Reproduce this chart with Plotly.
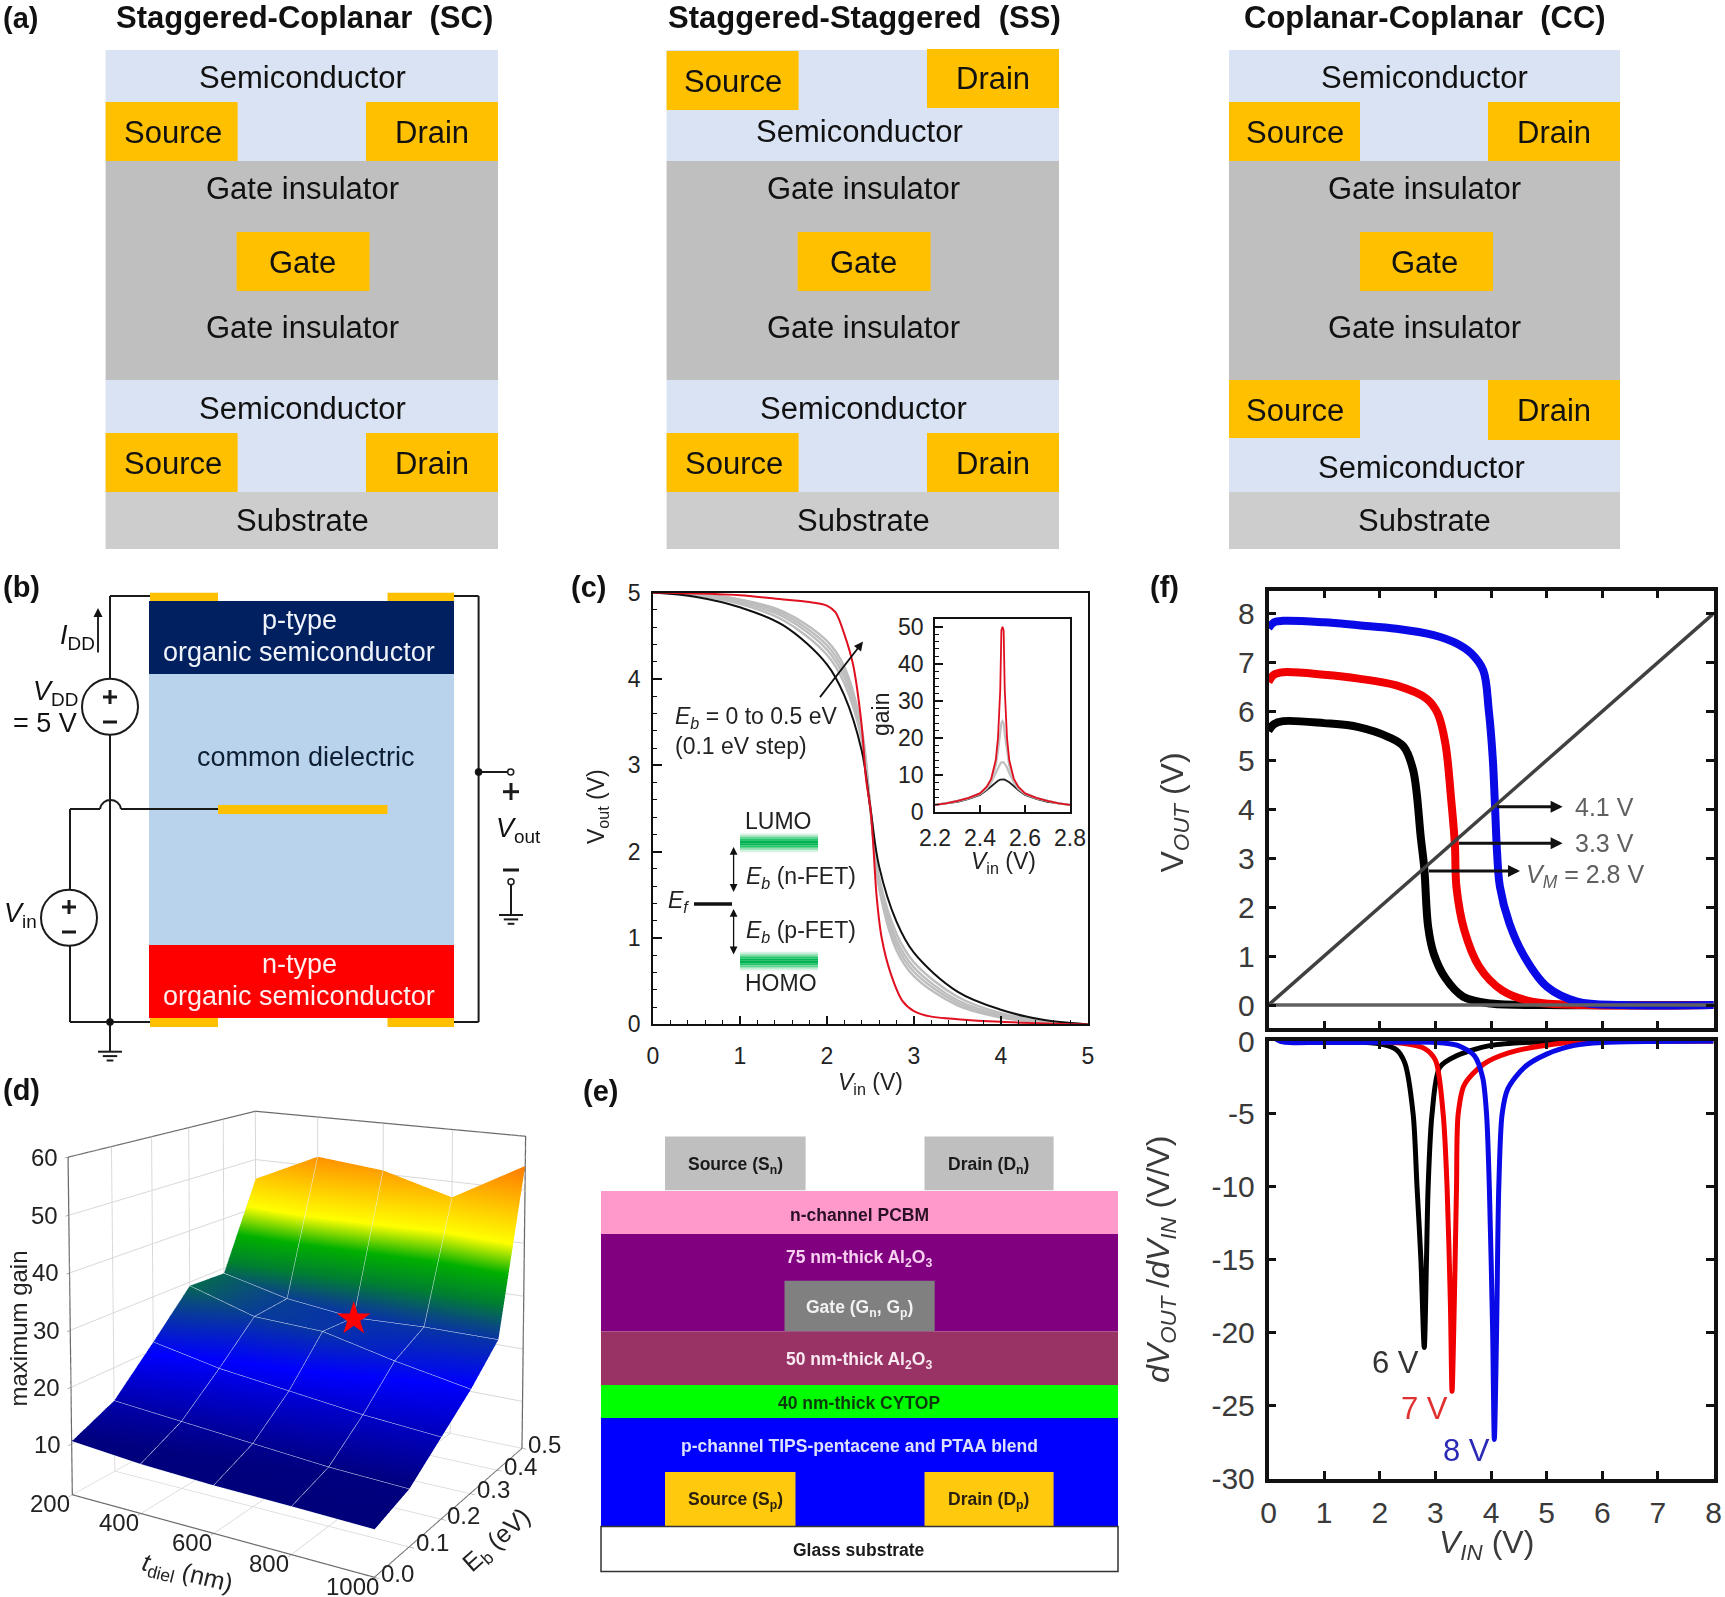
import plotly.graph_objects as go

W, H = 1725, 1597
FONT = "Liberation Sans, Arial, sans-serif"

# ---------- panel (c) data ----------
c_x = [0, .5, 1, 1.5, 2, 2.2, 2.4, 2.5, 2.6, 2.8, 3, 3.5, 4, 4.5, 5]
c_black = [5, 4.95, 4.83, 4.62, 4.17, 3.81, 3.17, 2.5, 1.83, 1.19, .83, .38, .17, .05, 0]
c_gray1 = [5, 4.97, 4.87, 4.68, 4.28, 3.95, 3.3, 2.5, 1.7, 1.05, .72, .32, .13, .04, 0]
c_gray2 = [5, 4.98, 4.89, 4.72, 4.34, 4.02, 3.34, 2.5, 1.66, .98, .66, .28, .11, .03, 0]
c_gray3 = [5, 4.98, 4.91, 4.75, 4.39, 4.08, 3.38, 2.5, 1.62, .92, .61, .25, .09, .03, 0]
c_gray4 = [5, 4.99, 4.92, 4.78, 4.44, 4.14, 3.42, 2.5, 1.58, .86, .56, .22, .08, .02, 0]
c_red_x = [0, 1, 1.5, 1.8, 2, 2.1, 2.2, 2.3, 2.4, 2.45, 2.5, 2.53, 2.57, 2.63, 2.73, 2.87, 3, 3.2, 3.5, 4, 5]
c_red_y = [5, 4.97, 4.92, 4.89, 4.85, 4.77, 4.52, 4.17, 3.46, 2.84, 2.5, 2.13, 1.5, 1.0, .6, .27, .155, .09, .06, .03, 0]

# inset gain
g_x = [2.2, 2.25, 2.3, 2.35, 2.4, 2.43, 2.45, 2.47, 2.48, 2.49, 2.495, 2.5, 2.505, 2.51, 2.52, 2.53, 2.55, 2.57, 2.6, 2.65, 2.7, 2.75, 2.8]
g_red = [1.9, 2.3, 3, 3.8, 5, 6.8, 9, 14, 20, 33, 49, 50, 49, 33, 20, 14, 9, 6.8, 5, 3.8, 3, 2.3, 1.9]
g_gray3 = [1.9, 2.3, 3, 3.8, 5, 6.6, 8.6, 12.5, 16.5, 21, 24, 24.5, 24, 21, 16.5, 12.5, 8.6, 6.6, 5, 3.8, 3, 2.3, 1.9]
g_gray1 = [1.9, 2.3, 2.9, 3.7, 4.8, 6.3, 8, 10.5, 12, 13, 13.4, 13.5, 13.4, 13, 12, 10.5, 8, 6.3, 4.8, 3.7, 2.9, 2.3, 1.9]
g_black = [1.9, 2.2, 2.7, 3.5, 4.6, 5.9, 7, 8, 8.4, 8.7, 8.8, 8.8, 8.8, 8.7, 8.4, 8, 7, 5.9, 4.6, 3.5, 2.7, 2.2, 1.9]

# ---------- panel (d) data ----------
d_t = [200, 400, 600, 800, 1000]
d_eb = [0, .1, .2, .3, .4, .5]
d_gain = [
    [10.5, 9.5, 9, 8.8, 8.5],
    [14, 13, 12, 11, 10.5],
    [21.5, 19, 17.5, 16, 15],
    [29.3, 25.5, 25, 22, 19.5],
    [29, 26, 24.5, 25, 25],
    [46, 52, 50.7, 47, 54.5],
]
d_ticks_t = ["200", "400", "600", "800", "1000"]
d_ticks_eb = ["0.0", "0.1", "0.2", "0.3", "0.4", "0.5"]
d_ticks_gain = [10, 20, 30, 40, 50, 60]

# ---------- panel (f) data ----------
f6_x = [0, .1, .26, 1, 1.62, 2.15, 2.43, 2.6, 2.74, 2.8, 2.87, 2.97, 3.18, 3.5, 4, 5, 8]
f6_y = [5.6, 5.74, 5.8, 5.76, 5.68, 5.48, 5.28, 4.8, 3.4, 2.8, 1.6, 1.05, .55, .17, .03, 0, 0]
f7_x = [0, .1, .26, 1, 1.62, 2.3, 2.84, 3.04, 3.18, 3.28, 3.35, 3.38, 3.52, 3.79, 4.2, 4.74, 5.7, 8]
f7_y = [6.6, 6.75, 6.8, 6.75, 6.67, 6.53, 6.26, 5.96, 5.34, 4.25, 3.3, 2.4, 1.53, .78, .3, .07, 0, 0]
f8_x = [0, .1, .26, 1, 1.62, 2.3, 2.97, 3.38, 3.65, 3.86, 3.96, 4.03, 4.07, 4.11, 4.16, 4.33, 4.6, 5.01, 5.55, 6.37, 8.05]
f8_y = [7.7, 7.82, 7.85, 7.82, 7.76, 7.69, 7.56, 7.39, 7.18, 6.84, 6.02, 5.07, 4.12, 3.1, 2.42, 1.67, .99, .37, .07, 0, 0]
unity_x = [0, 8]
unity_y = [0, 8]
zero_x = [0, 8]
zero_y = [0, 0]

d6_x = [.2, 1.5, 2, 2.3, 2.45, 2.6, 2.67, 2.74, 2.8, 2.84, 2.87, 2.94, 3.08, 3.39, 4, 5, 8]
d6_y = [0, -.05, -.2, -.6, -1.5, -5, -10, -15, -21, -15, -10, -5, -1.8, -1, -.3, -.05, 0]
d7_x = [.2, 2, 2.5, 2.8, 3, 3.14, 3.21, 3.27, 3.3, 3.34, 3.38, 3.41, 3.52, 3.86, 4.33, 5.15, 6, 8]
d7_y = [0, -.05, -.2, -.5, -1.3, -5, -10, -18, -24, -18, -10, -5, -3, -1.6, -.8, -.2, 0, 0]
d8_x = [0, .05, .15, 1, 3, 3.4, 3.7, 3.85, 3.92, 3.97, 4.03, 4.06, 4.1, 4.14, 4.2, 4.3, 4.6, 5, 5.5, 6, 8]
d8_y = [2.4, 1.5, .1, -.1, -.1, -.3, -1, -2.5, -5, -10, -20, -27.3, -20, -10, -5, -3.3, -1.8, -.9, -.3, -.1, 0]
d_tick_vals = [-30, -25, -20, -15, -10, -5, 0]
d_tick_text = ["-30", "-25", "-20", "-15", "-10", "-5", "0"]

# ---------- helpers ----------
shapes, annos = [], []


def px(x):
    return x / W


def py(y):
    return 1 - y / H


def rect(x0, y0, x1, y1, fill, line=None, lw=0):
    shapes.append(dict(type="rect", xref="paper", yref="paper", x0=px(x0), x1=px(x1), y0=py(y0), y1=py(y1),
                       fillcolor=fill, line=dict(color=line or fill, width=lw), layer="above"))


def seg(x0, y0, x1, y1, color="#1a1a1a", lw=2):
    shapes.append(dict(type="line", xref="paper", yref="paper", x0=px(x0), x1=px(x1), y0=py(y0), y1=py(y1),
                       line=dict(color=color, width=lw), layer="above"))


def circ(cx, cy, r, fill="rgba(0,0,0,0)", line="#1a1a1a", lw=2):
    shapes.append(dict(type="circle", xref="paper", yref="paper", x0=px(cx - r), x1=px(cx + r), y0=py(cy + r), y1=py(cy - r),
                       fillcolor=fill, line=dict(color=line, width=lw), layer="above"))


def txt(x, y, s, size=27, color="#111111", anchor="center", angle=0, bold=False):
    if bold:
        s = "<b>" + s + "</b>"
    annos.append(dict(xref="paper", yref="paper", x=px(x), y=py(y), text=s, showarrow=False,
                      xanchor=anchor, yanchor="middle", textangle=angle,
                      font=dict(family=FONT, size=size, color=color)))


def arrow(x0, y0, x1, y1, color="#111111", lw=2, side="end", head=2, scale=1.0):
    annos.append(dict(xref="paper", yref="paper", x=px(x1), y=py(y1), text=" ", showarrow=True,
                      ax=x0 - x1, ay=y0 - y1, axref="pixel", ayref="pixel", arrowcolor=color, arrowwidth=lw,
                      arrowhead=head, arrowsize=scale, arrowside=side, startarrowhead=head, startarrowsize=scale,
                      standoff=0, startstandoff=0))


def ground(x, y, w1=12, gap=4.4):
    seg(x - w1, y, x + w1, y)
    seg(x - w1 * .6, y + gap, x + w1 * .6, y + gap)
    seg(x - w1 * .28, y + 2 * gap, x + w1 * .28, y + 2 * gap)


GOLD, SEMI, INS, SUB = "#FFC000", "#DAE3F3", "#BFBFBF", "#CDCDCD"

# ---------- panel (a) ----------
for (xl, xr, tx) in [(105.6, 498, 302.5), (666.6, 1059, 863.5), (1229, 1620, 1424.5)]:
    rect(xl, 161, xr, 380, INS)
    rect(xl, 492, xr, 549, SUB)
    rect(xl, 50, xr, 161, SEMI)
    rect(xl, 380, xr, 492, SEMI)
    rect(xl + 131, 232, xl + 264, 291, GOLD)
    txt(tx, 188.6, "Gate insulator", 31)
    txt(tx, 327.5, "Gate insulator", 31)
    txt(tx, 262.5, "Gate", 31)
    txt(tx, 520.7, "Substrate", 31)

# SC
rect(105.6, 102, 237.6, 161, GOLD); rect(366, 102, 498, 161, GOLD)
rect(105.6, 433, 237.6, 492, GOLD); rect(366, 433, 498, 492, GOLD)
txt(302.5, 78, "Semiconductor", 31)
txt(172.7, 133, "Source", 31); txt(432, 133, "Drain", 31)
txt(302.5, 408, "Semiconductor", 31)
txt(172.7, 463, "Source", 31); txt(432, 463, "Drain", 31)
# SS
rect(666.6, 51, 798.6, 110, GOLD); rect(927, 49, 1059, 108, GOLD)
rect(666.6, 433, 798.6, 492, GOLD); rect(927, 433, 1059, 492, GOLD)
txt(733, 81.4, "Source", 31); txt(993, 79, "Drain", 31)
txt(859, 131.4, "Semiconductor", 31)
txt(863.5, 408, "Semiconductor", 31)
txt(733.5, 463, "Source", 31); txt(993, 463, "Drain", 31)
# CC
rect(1229, 102, 1360, 161, GOLD); rect(1488, 102, 1620, 161, GOLD)
rect(1229, 380, 1360, 438, GOLD); rect(1488, 380, 1620, 440, GOLD)
txt(1424.5, 78, "Semiconductor", 31)
txt(1294.7, 133, "Source", 31); txt(1554, 133, "Drain", 31)
txt(1294.7, 410.7, "Source", 31); txt(1554, 410.7, "Drain", 31)
txt(1421, 468, "Semiconductor", 31)

txt(1, 17.5, "(a)", 29, anchor="left", bold=True)
txt(304, 17.5, "Staggered-Coplanar\u00a0 (SC)", 31, bold=True)
txt(864, 17.5, "Staggered-Staggered\u00a0 (SS)", 31, bold=True)
txt(1424.5, 17.5, "Coplanar-Coplanar\u00a0 (CC)", 31, bold=True)

# ---------- panel (b) ----------
rect(149, 601, 454, 674, "#002060")
rect(149, 674, 454, 945, "#B9D3EC")
rect(149, 945, 454, 1018, "#FF0000")
rect(150, 592.7, 218, 601, GOLD); rect(387.5, 592.7, 454, 601, GOLD)
rect(150, 1018, 218, 1027, GOLD); rect(387.5, 1018, 454, 1027, GOLD)
rect(218, 805, 387.5, 814, GOLD)
seg(110, 596, 150, 596); seg(110, 596, 110, 679)
seg(110, 735, 110, 1052)
seg(454, 596, 478.6, 596); seg(478.6, 596, 478.6, 1022); seg(454, 1022, 478.6, 1022)
seg(70, 809, 100, 809); seg(121, 809, 218, 809)
shapes.append(dict(type="path", xref="paper", yref="paper", layer="above", line=dict(color="#1a1a1a", width=2),
                   path=f"M {px(100)} {py(809)} C {px(102)} {py(797)}, {px(119)} {py(797)}, {px(121)} {py(809)}"))
seg(70, 809, 70, 890); seg(70, 946, 70, 1022); seg(70, 1022, 150, 1022)
circ(110, 706.7, 28); circ(69, 917.7, 28)
seg(110, 690, 110, 704, lw=3); seg(103, 697, 117, 697, lw=3); seg(103, 722, 117, 722, lw=3)
seg(69, 900, 69, 914, lw=3); seg(62, 907, 76, 907, lw=3); seg(62, 932, 76, 932, lw=3)
circ(110, 1022, 3.5, fill="#111111", lw=1)
circ(478.6, 772, 3.5, fill="#111111", lw=1)
seg(478.6, 772, 508, 772)
circ(510.7, 772, 3, fill="white", lw=1.5)
ground(110, 1051.7)
ground(511, 915, w1=12)
seg(511, 885, 511, 915)
circ(511, 881.7, 3, fill="white", lw=1.5)
seg(511, 783, 511, 800, lw=3); seg(503, 791.7, 519, 791.7, lw=3); seg(503, 870, 519, 870, lw=3)
arrow(98, 661, 98, 608, lw=1.8)
txt(77, 637, "<i>I</i><sub>DD</sub>", 27)
txt(55, 693, "<i>V</i><sub>DD</sub>", 27)
txt(45, 723, "= 5 V", 27)
txt(20, 915, "<i>V</i><sub>in</sub>", 27)
txt(518, 830, "<i>V</i><sub>out</sub>", 27)
txt(299, 620, "p-type", 27, "#F0F4FA")
txt(299, 652, "organic semiconductor", 27, "#F0F4FA")
txt(299, 964, "n-type", 27, "#FFF0F0")
txt(299, 996, "organic semiconductor", 27, "#FFF0F0")
txt(306, 757, "common dielectric", 27, "#0F1F33")
txt(1, 587, "(b)", 29, anchor="left", bold=True)

# ---------- panel (c) annotations ----------
txt(569, 587, "(c)", 29, anchor="left", bold=True)
txt(672.5, 717.6, "<i>E<sub>b</sub></i> = 0 to 0.5 eV", 23, "#222222", anchor="left")
txt(672.5, 745.7, "(0.1 eV step)", 23, "#222222", anchor="left")
arrow(817, 701, 863, 641.6, lw=1.8)
strip_colors = ["#D8F3E3", "#9FE4BB", "#5FD590", "#25C56B", "#00B653", "#00B050", "#00B653", "#25C56B", "#5FD590", "#9FE4BB", "#D8F3E3"]
for base_y in (833.5, 951.8):
    for i, col in enumerate(strip_colors):
        rect(740, base_y + i * 1.7, 818, base_y + (i + 1) * 1.7, col)
txt(778, 820.7, "LUMO", 23, "#222222")
txt(781, 982.8, "HOMO", 23, "#222222")
txt(744, 877.4, "<i>E<sub>b</sub></i> (n-FET)", 23, "#222222", anchor="left")
txt(744, 931.5, "<i>E<sub>b</sub></i> (p-FET)", 23, "#222222", anchor="left")
txt(678, 901, "<i>E<sub>f</sub></i>", 23, "#222222")
seg(694, 904, 732, 904, "#111111", 3.5)
arrow(733.6, 900.4, 733.6, 847, lw=1.3, side="end+start", scale=1.2)
arrow(733.6, 962.9, 733.6, 908.9, lw=1.3, side="end+start", scale=1.2)
txt(597.5, 806.5, "V<sub>out</sub> (V)", 23, "#222222", angle=-90)
txt(871, 1083.5, "<i>V</i><sub>in</sub> (V)", 23, "#222222")
txt(881, 715, "gain", 23, "#222222", angle=-90)
txt(1003, 862, "<i>V</i><sub>in</sub> (V)", 23, "#222222")

# ---------- panel (d) annotations ----------
txt(1, 1090, "(d)", 29, anchor="left", bold=True)
txt(17.5, 1329, "maximum gain", 24, "#222222", angle=-90)
txt(187, 1574, "<i>t</i><sub>diel</sub> (nm)", 25, "#222222", angle=14)
txt(497, 1541, "E<sub>b</sub> (eV)", 25, "#222222", angle=-42)

# ---------- panel (e) ----------
txt(581, 1091, "(e)", 29, anchor="left", bold=True)
rect(665, 1136.6, 805.6, 1190.3, "#BFBFBF")
rect(924.5, 1136.6, 1053.6, 1190.3, "#BFBFBF")
rect(601, 1191, 1118, 1234, "#FF99CC")
rect(601, 1234, 1118, 1331.5, "#800080")
rect(784.5, 1280.8, 934.7, 1331.5, "#808080")
rect(601, 1331.5, 1118, 1385, "#993366")
rect(601, 1385, 1118, 1418, "#00FF00")
rect(601, 1418, 1118, 1526.5, "#0000FF")
rect(665, 1472, 795.5, 1526.5, "#FFC90E")
rect(924.5, 1472, 1053.6, 1526.5, "#FFC90E")
rect(601, 1526.5, 1118, 1571.5, "#FFFFFF", line="#333333", lw=1.5)
E = 17.5
txt(735.5, 1165, "Source (S<sub>n</sub>)", E, "#1a1a1a", bold=True)
txt(988, 1165, "Drain (D<sub>n</sub>)", E, "#1a1a1a", bold=True)
txt(859, 1214.5, "n-channel PCBM", E, "#2a1025", bold=True)
txt(859, 1258, "75 nm-thick Al<sub>2</sub>O<sub>3</sub>", E, "#F7D0F0", bold=True)
txt(859, 1308, "Gate (G<sub>n</sub>, G<sub>p</sub>)", E, "#F2F2F2", bold=True)
txt(859, 1360, "50 nm-thick Al<sub>2</sub>O<sub>3</sub>", E, "#F8E8F0", bold=True)
txt(859, 1403, "40 nm-thick CYTOP", E, "#0C3A0C", bold=True)
txt(859, 1446, "p-channel TIPS-pentacene and PTAA blend", E, "#DDE0FF", bold=True)
txt(735.5, 1500, "Source (S<sub>p</sub>)", E, "#2a2010", bold=True)
txt(988, 1500, "Drain (D<sub>p</sub>)", E, "#2a2010", bold=True)
txt(859, 1550, "Glass substrate", E, "#1a1a1a", bold=True)

# ---------- panel (f) annotations ----------
txt(1148, 587, "(f)", 29, anchor="left", bold=True)
arrow(1494, 806.7, 1562.6, 806.7, lw=3, head=2, scale=.8)
arrow(1456, 843.3, 1562.6, 843.3, lw=3, head=2, scale=.8)
arrow(1426, 871, 1520, 871, lw=3, head=2, scale=.8)
GR = "#606060"
txt(1604, 806.7, "4.1 V", 25, GR)
txt(1604, 843.3, "3.3 V", 25, GR)
txt(1585.4, 876, "<i>V<sub>M</sub></i> = 2.8 V", 25, GR)
txt(1173.6, 813, "V<sub><i>OUT</i></sub> (V)", 32, "#3a3a3a", angle=-90)
txt(1160, 1259, "<i>dV<sub>OUT</sub></i> /<i>dV<sub>IN</sub></i> (V/V)", 32, "#3a3a3a", angle=-90)
txt(1486.7, 1544, "<i>V<sub>IN</sub></i> (V)", 32, "#3a3a3a")
txt(1395.6, 1362, "6 V", 31, "#333333")
txt(1424, 1408, "7 V", 31, "#E03030")
txt(1466, 1450, "8 V", 31, "#2A2AB5")

# ---------- traces ----------
fig = go.Figure()
grays = [c_gray1, c_gray2, c_gray3, c_gray4]
for g in grays:
    fig.add_trace(go.Scatter(x=c_x, y=g, mode="lines", line=dict(color="#BDBDBD", width=2.4, shape="spline", smoothing=1),
                             xaxis="x", yaxis="y"))
fig.add_trace(go.Scatter(x=c_x, y=c_black, mode="lines", line=dict(color="#111111", width=2, shape="spline", smoothing=1),
                         xaxis="x", yaxis="y"))
fig.add_trace(go.Scatter(x=c_red_x, y=c_red_y, mode="lines", line=dict(color="#E01020", width=2, shape="spline", smoothing=.8),
                         xaxis="x", yaxis="y"))
for yy, col, w in [(g_black, "#222222", 1.8), (g_gray1, "#C0C0C0", 2.2), (g_gray3, "#C0C0C0", 2.2), (g_red, "#E01020", 1.8)]:
    fig.add_trace(go.Scatter(x=g_x, y=yy, mode="lines", line=dict(color=col, width=w), xaxis="x2", yaxis="y2"))

for xx, yy, col in [(f6_x, f6_y, "#000000"), (f7_x, f7_y, "#F00000"), (f8_x, f8_y, "#0A0AE6")]:
    fig.add_trace(go.Scatter(x=xx, y=yy, mode="lines", cliponaxis=False,
                             line=dict(color=col, width=8, shape="spline", smoothing=1), xaxis="x3", yaxis="y3"))
fig.add_trace(go.Scatter(x=unity_x, y=unity_y, mode="lines", line=dict(color="#404040", width=3.5), xaxis="x3", yaxis="y3"))
fig.add_trace(go.Scatter(x=zero_x, y=zero_y, mode="lines", line=dict(color="#606060", width=3.5), xaxis="x3", yaxis="y3"))
for xx, yy, col in [(d6_x, d6_y, "#000000"), (d7_x, d7_y, "#F00000"), (d8_x, d8_y, "#0A0AE6")]:
    fig.add_trace(go.Scatter(x=xx, y=yy, mode="lines", cliponaxis=False,
                             line=dict(color=col, width=5, shape="spline", smoothing=.8), xaxis="x4", yaxis="y4"))

surface_scale = [
    [0, "#00006E"], [.10, "#00007F"], [.27, "#0000FF"], [.40, "#0A4A80"], [.47, "#008030"], [.56, "#00B000"],
    [.655, "#FFFF00"], [.86, "#FF9000"], [.96, "#FF6000"], [1, "#FF5000"],
]
fig.add_trace(go.Surface(
    x=d_t, y=d_eb, z=d_gain, showscale=False, colorscale=surface_scale, cmin=5, cmax=60, scene="scene", hoverinfo="skip",
    lighting=dict(ambient=1, diffuse=0, specular=0, roughness=1, fresnel=0),
    contours=dict(
        x=dict(show=True, start=200, end=1000, size=200, color="#E6EEF8", width=5),
        y=dict(show=True, start=0, end=.5, size=.1, color="#E6EEF8", width=5),
        z=dict(show=False),
    ),
))

# ---------- axes ----------
TF = dict(family=FONT, size=23, color="#222222")


def dom_x(a, b):
    return [a / W, b / W]


def dom_y(top, bot):
    return [1 - bot / H, 1 - top / H]


def base(**kw):
    d = dict(showgrid=False, zeroline=False, showline=True, linecolor="#111111", ticks="inside", tickcolor="#111111")
    d.update(kw)
    return d


layout_axes = dict(
    xaxis=base(domain=dom_x(652.9, 1087.9), range=[0, 5], dtick=1, anchor="y", mirror=True, linewidth=1.5, ticklen=9,
               tickwidth=1.5, tickfont=TF, ticklabelstandoff=10,
               minor=dict(dtick=.2, ticks="inside", ticklen=4.5, tickwidth=1.2, tickcolor="#111111")),
    yaxis=base(domain=dom_y(592.6, 1024.4), range=[0, 5], dtick=1, anchor="x", mirror=True, linewidth=1.5, ticklen=9,
               tickwidth=1.5, tickfont=TF, ticklabelstandoff=6,
               minor=dict(dtick=.2, ticks="inside", ticklen=4.5, tickwidth=1.2, tickcolor="#111111")),
    xaxis2=base(domain=dom_x(935, 1070), range=[2.2, 2.8], tickvals=[2.2, 2.4, 2.6, 2.8], tickformat=".1f", anchor="y2",
                mirror=True, linewidth=1.5, ticklen=7, tickwidth=1.5, tickfont=TF, ticklabelstandoff=5),
    yaxis2=base(domain=dom_y(619, 811.9), range=[0, 52.1], dtick=10, anchor="x2", mirror=True, linewidth=1.5, ticklen=8,
                tickwidth=1.5, tickfont=TF, ticklabelstandoff=5,
                minor=dict(dtick=2, ticks="inside", ticklen=4, tickwidth=1, tickcolor="#111111")),
)
FF = dict(family=FONT, size=30, color="#3A3A3A")
layout_axes.update(
    xaxis3=base(domain=dom_x(1268.5, 1713.5), range=[0, 8], dtick=1, anchor="y3", mirror="ticks", linewidth=3.5, ticklen=8,
                tickwidth=3, showticklabels=False),
    yaxis3=base(domain=dom_y(590.5, 1028.3), range=[-.476, 8.47], dtick=1, anchor="x3", mirror="ticks", linewidth=3.5, ticklen=8,
                tickwidth=3, tickfont=FF, ticklabelstandoff=4),
    xaxis4=base(domain=dom_x(1268.5, 1713.5), range=[0, 8], dtick=1, anchor="y4", mirror="ticks", linewidth=3.5, ticklen=8,
                tickwidth=3, tickfont=FF, ticklabelstandoff=4),
    yaxis4=base(domain=dom_y(1041, 1478.8), range=[-30, 0], tickvals=d_tick_vals, ticktext=d_tick_text, anchor="x4",
                mirror="ticks", linewidth=3.5, ticklen=8, tickwidth=3, tickfont=FF, ticklabelstandoff=4),
)

axis3d = dict(showbackground=False, gridcolor="#D8D8D8", gridwidth=2, linecolor="#6A6A6A", linewidth=2.5, showline=True,
              mirror=True, showspikes=False, zeroline=False, title=dict(text=""), ticks="outside", tickcolor="#6A6A6A", ticklen=4,
              showticklabels=False)

DF = dict(family=FONT, size=24, color="#222222")
scene_annos = [dict(x=600, y=.4, z=24.5, text="\u2605", showarrow=False, font=dict(size=44, color="#FF0000"))]
Z_BOTTOM = 1
for v, s in zip(d_t, d_ticks_t):
    scene_annos.append(dict(x=v, y=0, z=Z_BOTTOM, text=s, showarrow=False, xshift=-22, yshift=-9, font=DF))
for v, s in zip(d_eb, d_ticks_eb):
    scene_annos.append(dict(x=1000, y=v, z=Z_BOTTOM, text=s, showarrow=False, xshift=23, yshift=4, font=DF))
for v in d_ticks_gain:
    scene_annos.append(dict(x=200, y=0, z=v, text=str(v), showarrow=False, xshift=-24, yshift=0, font=DF))

scene = dict(
    domain=dict(x=dom_x(0, 612), y=dom_y(400, 1597)),
    xaxis=dict(axis3d, range=[200, 1000], tickvals=d_t),
    yaxis=dict(axis3d, range=[0, .5], tickvals=d_eb),
    zaxis=dict(axis3d, range=[Z_BOTTOM, 60], tickvals=d_ticks_gain),
    aspectmode="manual",
    aspectratio=dict(x=1, y=1, z=1.0),
    camera=dict(eye=dict(x=2.181, y=-3.690, z=1.270), center=dict(x=-.037, y=.062, z=.939), up=dict(x=0, y=0, z=1),
                projection=dict(type="perspective")),
    annotations=scene_annos,
)

fig.update_layout(width=W, height=H, margin=dict(l=0, r=0, t=0, b=0, autoexpand=False), paper_bgcolor="white",
                  plot_bgcolor="rgba(0,0,0,0)", showlegend=False, hovermode=False, shapes=shapes, annotations=annos, scene=scene,
                  font=dict(family=FONT), **layout_axes)

fig.write_html("out.html", config=dict(displayModeBar=False),
               post_script="document.body.style.margin='0';document.body.style.overflow='hidden';")
